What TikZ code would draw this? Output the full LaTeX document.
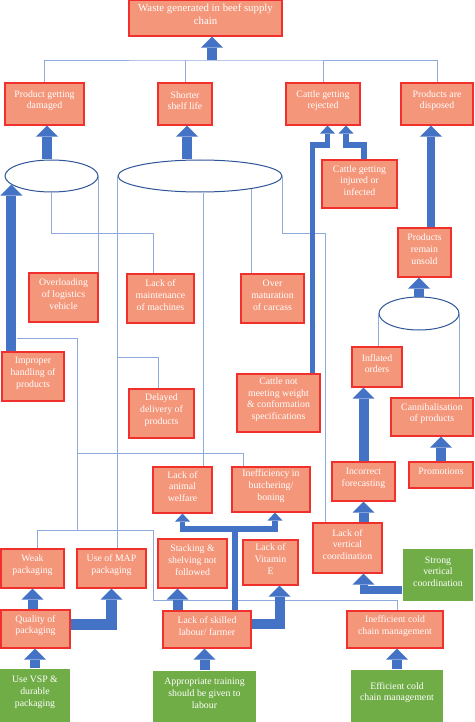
\documentclass[tikz,border=0pt]{standalone}
\usepackage{fontspec}
\setmainfont{Liberation Serif}
\usetikzlibrary{arrows.meta,fit,shapes.geometric}

\definecolor{boxfill}{HTML}{F4967A}
\definecolor{boxline}{HTML}{F0302C}
\definecolor{curegreen}{HTML}{70AD47}
\definecolor{arrowblue}{HTML}{4472C4}
\definecolor{linkblue}{HTML}{8FAADC}
\definecolor{gateblue}{HTML}{2F5597}

\tikzset{
    cause/.style={draw=boxline, line width=1.1pt, fill=boxfill, text=white, align=center, inner sep=0pt, font=\fontsize{9.8}{11.7}\selectfont},
    cure/.style={cause, draw=none, fill=curegreen},
    gate/.style={ellipse, draw=gateblue, line width=1pt, inner sep=0pt},
    link/.style={draw=linkblue, line width=0.8pt},
    fat/.style={draw=arrowblue, line width=10pt, -{Triangle[width=22pt,length=11pt,line width=0pt]}},
    slim/.style={draw=arrowblue, line width=5.5pt, -{Triangle[width=15pt,length=8pt,line width=0pt]}}
}

\begin{document}
\begin{tikzpicture}[x=1pt, y=-1pt]
    \useasboundingbox (0,0) rectangle (474,722);

    % waste and its four kinds

    \node[cause, font=\fontsize{10.8}{12.5}\selectfont, fit={(129,0) (282,36)}] (waste) {Waste generated in beef supply\\chain};
    \node[cause, fit={(5,83) (84,125)}] (dmg) {Product getting\\damaged};
    \node[cause, fit={(158,83) (212,125)}] (shelf) {Shorter\\shelf life};
    \node[cause, fit={(286,83) (360,125)}] (rej) {Cattle getting\\rejected};
    \node[cause, fit={(401,83) (473,125)}] (dis) {Products are\\disposed};

    \coordinate (bus) at (212,60);
    \draw[link] (dmg.north) |- (bus) -| (dis.north);
    \draw[link] (shelf.north) -- (shelf.north |- bus);
    \draw[link] (rej.north) -- (rej.north |- bus);
    \draw[fat] (bus) -- (bus |- waste.south);

    % causes

    \node[gate, minimum width=93pt, minimum height=32pt] (gL) at (51.5,176) {};
    \node[gate, minimum width=164pt, minimum height=32pt] (gM) at (200,176) {};
    \node[gate, minimum width=80pt, minimum height=33pt] (gR) at (419,313.5) {};

    \node[cause, fit={(322,160) (397,208)}] (inj) {Cattle getting\\injured or\\infected};
    \node[cause, fit={(29,273) (98,322)}] (over) {Overloading\\of logistics\\vehicle};
    \node[cause, fit={(127,274) (194,323)}] (maint) {Lack of\\maintenance\\of machines};
    \node[cause, fit={(241,274) (304,323)}] (mat) {Over\\maturation\\of carcass};
    \node[cause, fit={(398,228) (451,277)}] (unsold) {Products\\remain\\unsold};
    \node[cause, fit={(2,352) (64,401)}] (impr) {Improper\\handling of\\products};
    \node[cause, fit={(129,389) (194,438)}] (delay) {Delayed\\delivery of\\products};
    \node[cause, fit={(237,374) (320,432)}] (cnm) {Cattle not\\meeting weight\\\& conformation\\specifications};
    \node[cause, fit={(352,347) (402,387)}] (infl) {Inflated\\orders};
    \node[cause, fit={(391,398) (473,436)}] (cann) {Cannibalisation\\of products};
    \node[cause, fit={(153,467) (212,513)}] (welf) {Lack of\\animal\\welfare};
    \node[cause, fit={(232,467) (310,512)}] (ineff) {Inefficiency in\\butchering/\\boning};
    \node[cause, fit={(332,462) (395,501)}] (fore) {Incorrect\\forecasting};
    \node[cause, fit={(409,462) (473,488)}] (promo) {Promotions};
    \node[cause, fit={(1,549) (64,588)}] (weak) {Weak\\packaging};
    \node[cause, fit={(77,549) (146,588)}] (map) {Use of MAP\\packaging};
    \node[cause, fit={(158,539) (227,588)}] (stack) {Stacking \&\\shelving not\\followed};
    \node[cause, fit={(243,540) (298,585)}] (vitE) {Lack of\\Vitamin\\E};
    \node[cause, fit={(313,523) (382,573)}] (vert) {Lack of\\vertical\\coordination};
    \node[cause, fit={(1,610) (70,648)}] (qual) {Quality of\\packaging};
    \node[cause, fit={(163,611) (251,648)}] (skill) {Lack of skilled\\labour/ farmer};
    \node[cause, fit={(347,611) (443,648)}] (cold) {Inefficient cold\\chain management};

    % remedies

    \node[cure, fit={(403,549) (473,601)}] (strong) {Strong\\vertical\\coordination};
    \node[cure, fit={(0,669) (70,722)}] (vsp) {Use VSP \&\\durable\\packaging};
    \node[cure, fit={(153,671) (256,722)}] (train) {Appropriate training\\should be given to\\labour};
    \node[cure, fit={(351,670) (443,722)}] (eff) {Efficient cold\\chain management};

    % thin links

    \coordinate (kImp) at (17,338);
    \coordinate (kButch) at (77,453);
    \coordinate (kPack) at (77,530);
    \coordinate (kCold) at (153,600);
    \coordinate (kDel) at (118,357);

    \draw[link] (gL.east) -- (over.north east);
    \draw[link] (gL.south) -- ++(0,41) -| ([xshift=-7.5pt]maint.north);
    \draw[link] (kImp) -| (kPack);
    \draw[link] (kButch) -| ([xshift=-28pt]ineff.north);
    \draw[link] ([xshift=4.5pt]weak.north) |- (kCold |- kPack) -- (kCold) -| ([xshift=2pt]cold.north);
    \draw[link] (gM.west) -- (gM.west |- map.north);
    \draw[link] (kDel) -| ([xshift=-3.5pt]delay.north);
    \draw[link] ([xshift=3pt]gM.south) -- ([xshift=3pt]gM.south |- welf.north);
    \draw[link] (gM.-14) -- (gM.-14 |- mat.north);
    \draw[link] (gM.east) -- ++(0,57) -| ([xshift=-22.5pt]vert.north);
    \draw[link] (gR.west) -- (gR.west |- infl.north);
    \draw[link] (gR.east) -- (gR.east |- cann.north);

    % block arrows

    \draw[fat] ([xshift=2.5pt]dmg.south |- gL.north) -- ([xshift=2.5pt]dmg.south);
    \draw[fat] ([xshift=2pt]shelf.south |- gM.north) -- ([xshift=2pt]shelf.south);
    \draw[fat] (impr.north -| gL.192) -- (gL.192);
    \draw[slim] ([xshift=34pt]cnm.north) -- ++(0,-228.5) -| ([xshift=4.5pt]rej.south);
    \draw[slim] ([xshift=4.5pt]inj.north) -- ++(0,-14.5) -| ([xshift=23pt]rej.south);
    \draw[fat, line width=8pt] ([xshift=6.5pt]unsold.north) -- ([xshift=6.5pt]unsold.north |- dis.south);
    \draw[fat] (gR.north) -- (gR.north |- unsold.south);
    \draw[fat] (fore.north) -- (fore.north |- infl.south);
    \draw[fat] (fore.south |- vert.north) -- (fore.south);
    \draw[fat, line width=8pt] ([yshift=-15pt]strong.west) -| (fore.south |- vert.south);
    \draw[fat] (promo.north) -- (promo.north |- cann.south);
    \draw[fat] (eff.north) -- (eff.north |- cold.south);
    \draw[fat] (weak.south |- qual.north) -- (weak.south);
    \draw[fat] (vsp.north) -- (vsp.north |- qual.south);
    \draw[fat, line width=11pt] ([yshift=5pt]qual.east) -| (map.south);
    \draw[fat] (train.north) -- (train.north |- skill.south);
    \draw[fat] ([xshift=-15pt]stack.south |- skill.north) -- ([xshift=-15pt]stack.south);
    \draw[fat] ([yshift=6pt]skill.east) -| ([xshift=9pt]vitE.south);

    \coordinate (kSkill) at (235,529);
    \draw[slim] (kSkill |- skill.north) -- (kSkill) -| (welf.south);
    \draw[slim] (kSkill) -| ([xshift=4pt]ineff.south);

\end{tikzpicture}
\end{document}
